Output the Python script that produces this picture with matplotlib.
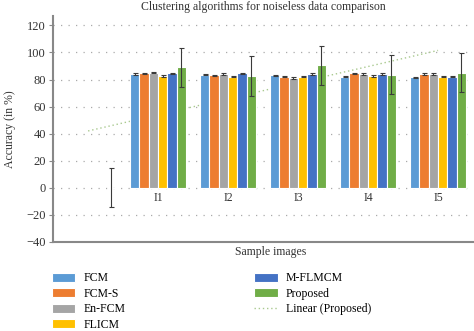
import numpy as np
import matplotlib
matplotlib.use("Agg")
import matplotlib.pyplot as plt

plt.rcParams['font.family'] = ['Liberation Serif', 'DejaVu Serif']

# first slot is an empty category; only the proposed series sits there at zero
categories = ['', 'I1', 'I2', 'I3', 'I4', 'I5']
methods = ['FCM', 'FCM-S', 'En-FCM', 'FLICM', 'M-FLMCM', 'Proposed']
colors = ['#5B9BD5', '#ED7D31', '#A5A5A5', '#FFC000', '#4472C4', '#70AD47']

fcm = [np.nan, 84.0, 83.5, 83.0, 82.0, 81.5]
fcm_s = [np.nan, 84.5, 83.0, 82.0, 84.5, 84.0]
en_fcm = [np.nan, 85.0, 84.0, 81.0, 84.0, 84.0]
flicm = [np.nan, 82.5, 82.0, 82.0, 82.5, 82.0]
m_flmcm = [np.nan, 84.5, 84.5, 84.0, 84.0, 82.0]
proposed = [0.0, 89.0, 82.5, 90.5, 83.5, 85.0]
small_err = 0.5
proposed_err = 14.5

series = [fcm, fcm_s, en_fcm, flicm, m_flmcm, proposed]

fig = plt.figure(figsize=(4.74, 3.31), dpi=100)
ax = fig.add_axes([0.112, 0.269, 0.886, 0.683])

x = np.arange(len(categories))
w = 0.133
handles = []
for i, (name, vals, c) in enumerate(zip(methods, series, colors)):
    pos = x + (i - 2.5) * w
    err = proposed_err if name == 'Proposed' else small_err
    h = ax.bar(pos, vals, width=w, color=c, edgecolor='white', linewidth=0.8,
               label=name, zorder=3)
    ax.errorbar(pos, vals, yerr=err, fmt='none', ecolor='#3a3a3a',
                elinewidth=0.8, capsize=1.8, capthick=0.8, zorder=4)
    handles.append(h)

# linear trend of the proposed series across all slots
k, b = np.polyfit(x, proposed, 1)
tl, = ax.plot(x, k * x + b, linestyle=(0, (1, 2)), color='#A9C98F',
              linewidth=1.0, label='Linear (Proposed)', zorder=2)

ax.set_xlim(-0.5, 5.5)
ax.set_ylim(-40, 127)
ax.set_yticks(np.arange(-40, 121, 20))
ax.tick_params(axis='y', labelsize=9, length=3, color='#888888', pad=2,
               labelcolor='#333333')
ax.set_xticks([])
for yv in range(-20, 121, 20):
    ax.axhline(yv, color='#AAAAAA', linestyle=(0, (1, 5)), linewidth=0.9, zorder=1)

# category labels sit just under the zero line
for xi, lab in zip(x[1:], categories[1:]):
    ax.text(xi, -3.0, lab, ha='center', va='top', fontsize=8.5, color='#333333')

for s in ['top', 'right']:
    ax.spines[s].set_visible(False)
ax.spines['left'].set_color('#888888')
ax.spines['left'].set_linewidth(1.5)
ax.spines['bottom'].set_color('#888888')
ax.spines['bottom'].set_linewidth(1.5)

ax.set_ylabel('Accuracy (in %)', fontsize=8.5, color='#333333', labelpad=8)
ax.set_title('Clustering algorithms for noiseless data comparison',
             fontsize=8.5, color='#333333', pad=4)
fig.text(0.57, 0.238, 'Sample images', ha='center', va='center', fontsize=8.5,
         color='#333333')

fig.legend(handles + [tl], methods + ['Linear (Proposed)'], ncol=2,
           loc='upper left', bbox_to_anchor=(0.099, 0.192), frameon=False,
           fontsize=8.5, handlelength=2.0, handleheight=0.8, handletextpad=0.7,
           labelspacing=0.3, columnspacing=10.9, borderaxespad=0)

fig.savefig('out.png', dpi=100)
